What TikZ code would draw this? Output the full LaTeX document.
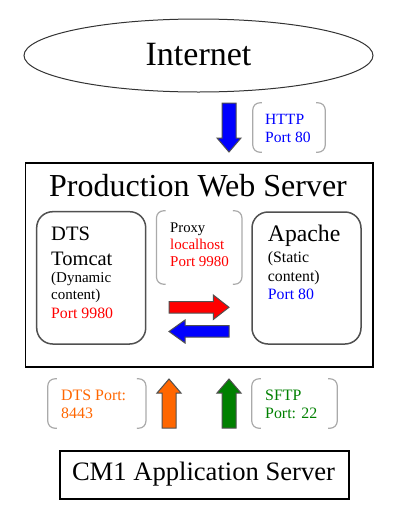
\documentclass[tikz,border=0pt]{standalone}
\usepackage{fontspec}
\setmainfont{Liberation Serif}
\usetikzlibrary{shapes.geometric}
\definecolor{orng}{HTML}{FF6600}
\definecolor{grn}{HTML}{008000}
\definecolor{bracketgray}{HTML}{AAAAAA}
\definecolor{boxgray}{HTML}{505050}
\tikzset{
  txt/.style={inner sep=0pt, anchor=base west},
  ctxt/.style={inner sep=0pt, anchor=base},
  frame/.style={draw=black, line width=1.3pt, inner sep=0pt},
  roundbox/.style={draw=boxgray, line width=1.5pt, rounded corners=16pt, inner sep=0pt},
  area/.style={inner sep=0pt},
  brk/.style={draw=bracketgray, line width=1.2pt, rounded corners=7pt},
  blockarrow/.style={draw=boxgray, line width=1pt, line join=miter},
}
\newcommand{\fs}[1]{\fontsize{#1}{#1}\selectfont}
\begin{document}
\begin{tikzpicture}[x=1pt,y=-1pt]
\useasboundingbox (0,0) rectangle (401,520);
% Internet
\node[ellipse, draw=black!80, line width=1pt, minimum width=349pt, minimum height=73pt, inner sep=0pt] (internet) at (198.5,55.5) {};
\node[ctxt] (internettxt) at (198.5,65) {\fs{34}Internet};
% HTTP label
\node[area, minimum width=72pt, minimum height=49pt] (http) at (289,127.5) {};
\draw[brk] ([xshift=9pt]http.north west) -- (http.north west) -- (http.south west) -- ([xshift=9pt]http.south west);
\draw[brk] ([xshift=-9pt]http.north east) -- (http.north east) -- (http.south east) -- ([xshift=-9pt]http.south east);
\node[txt] (httptxt) at (265,124) {\fs{15.6}\color{blue}HTTP};
\node[txt] (httpport) at (265,142.3) {\fs{15.6}\color{blue}Port 80};
% blue down arrow
\coordinate (dn) at (229,103);
\draw[blockarrow, fill=blue] ([xshift=-7pt]dn) -- ++(0,35) -- ++(-5,0) -- (229,152) -- (241,138) -- ++(-5,0) -- ([xshift=7pt]dn) -- cycle;
% main box
\node[frame, minimum width=347.3pt, minimum height=204pt] (pws) at (199.35,265) {};
\node[ctxt] (pwstxt) at (198,196) {\fs{32}Production Web Server};
% DTS Tomcat box
\node[roundbox, minimum width=109pt, minimum height=132.3pt] (dts) at (91.2,277.85) {};
\node[txt] (dts1) at (51,240) {\fs{20.5}DTS};
\node[txt] (dts2) at (51,265) {\fs{20.5}Tomcat};
\node[txt] (dts3) at (51,282.7) {\fs{15}(Dynamic};
\node[txt] (dts4) at (51,299) {\fs{15}content)};
\node[txt] (dts5) at (51,318) {\fs{15.8}\color{red}Port 9980};
% Apache box
\node[roundbox, minimum width=109pt, minimum height=132pt] (apache) at (306.5,278) {};
\node[txt] (ap1) at (267.7,241.7) {\fs{23.7}Apache};
\node[txt] (ap2) at (267.7,262.7) {\fs{15.8}(Static};
\node[txt] (ap3) at (267.7,281.7) {\fs{15.8}content)};
\node[txt] (ap4) at (267.7,299.3) {\fs{15.8}\color{blue}Port 80};
% Proxy label
\node[area, minimum width=85pt, minimum height=73pt] (proxy) at (199.2,247.5) {};
\draw[brk] ([xshift=9pt]proxy.north west) -- (proxy.north west) -- (proxy.south west) -- ([xshift=9pt]proxy.south west);
\draw[brk] ([xshift=-9pt]proxy.north east) -- (proxy.north east) -- (proxy.south east) -- ([xshift=-9pt]proxy.south east);
\node[txt] (px1) at (170,232.7) {\fs{14.7}Proxy};
\node[txt] (px2) at (170,249.3) {\fs{15}\color{red}localhost};
\node[txt] (px3) at (170,266) {\fs{15}\color{red}Port 9980};
% red right arrow
\draw[blockarrow, fill=red] (169,301.7) -- (213.3,301.7) -- (213.3,295) -- (229,307.3) -- (213.3,319.5) -- (213.3,313) -- (169,313) -- cycle;
% blue left arrow
\draw[blockarrow, fill=blue] (229,325.7) -- (185,325.7) -- (185,320) -- (169,331.5) -- (185,343) -- (185,337) -- (229,337) -- cycle;
% DTS Port label
\node[area, minimum width=97.7pt, minimum height=49pt] (dtsport) at (96.85,403.5) {};
\draw[brk] ([xshift=9pt]dtsport.north west) -- (dtsport.north west) -- (dtsport.south west) -- ([xshift=9pt]dtsport.south west);
\draw[brk] ([xshift=-9pt]dtsport.north east) -- (dtsport.north east) -- (dtsport.south east) -- ([xshift=-9pt]dtsport.south east);
\node[txt] (dp1) at (61,400.7) {\fs{15.9}\color{orng}DTS Port:};
\node[txt] (dp2) at (61,418.3) {\fs{15.9}\color{orng}8443};
% orange up arrow
\draw[blockarrow, fill=orng] (162,428) -- (162,393) -- (157,393) -- (169,379) -- (181,393) -- (176,393) -- (176,428) -- cycle;
% green up arrow
\draw[blockarrow, fill=grn] (222,428) -- (222,393) -- (217,393) -- (229,379) -- (241,393) -- (236,393) -- (236,428) -- cycle;
% SFTP label
\node[area, minimum width=85pt, minimum height=49pt] (sftp) at (294.5,403.5) {};
\draw[brk] ([xshift=9pt]sftp.north west) -- (sftp.north west) -- (sftp.south west) -- ([xshift=9pt]sftp.south west);
\draw[brk] ([xshift=-9pt]sftp.north east) -- (sftp.north east) -- (sftp.south east) -- ([xshift=-9pt]sftp.south east);
\node[txt] (sf1) at (265,400.7) {\fs{15.9}\color{grn}SFTP};
\node[txt] (sf2) at (265,418.3) {\fs{15.9}\color{grn}Port: 22};
% CM1 box
\node[frame, line width=1.2pt, minimum width=289pt, minimum height=48pt] (cm1) at (204.5,475) {};
\node[ctxt] (cm1txt) at (203.5,480) {\fs{26.6}CM1 Application Server};
\end{tikzpicture}
\end{document}
